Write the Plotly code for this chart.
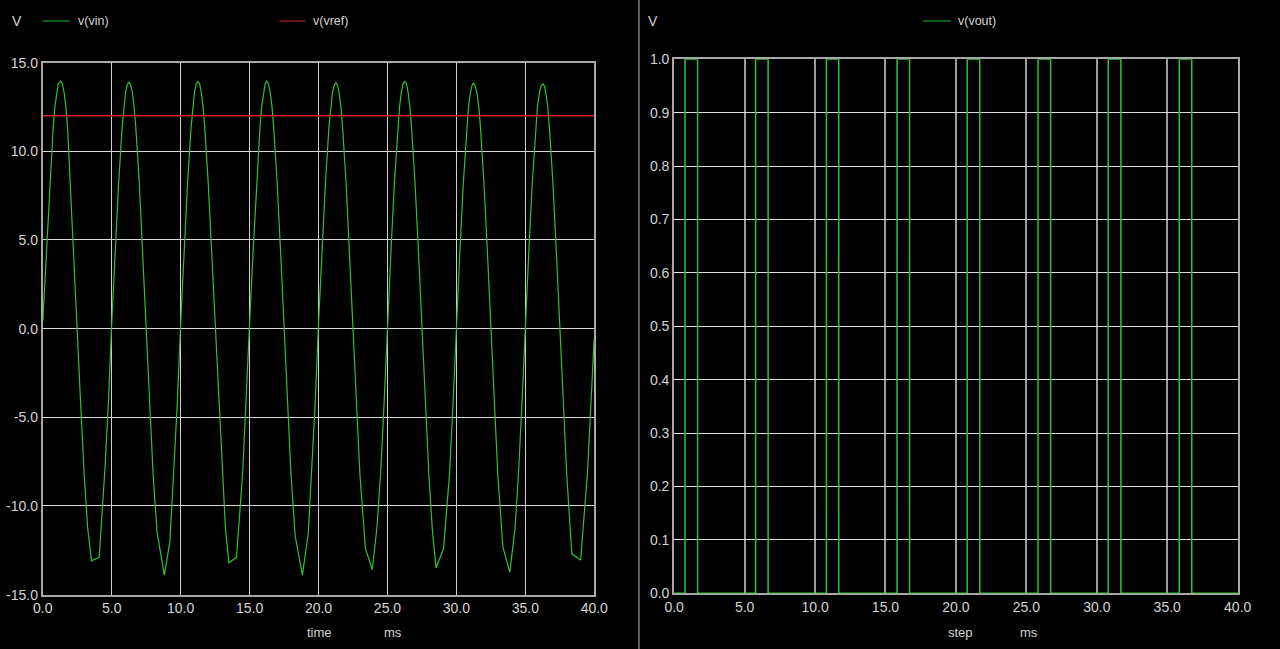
import plotly.graph_objects as go

# ---------------- data ----------------
vin_time = [
    0.0, 0.25, 0.5, 0.75, 0.875, 1.0, 1.125, 1.3, 1.425, 1.55, 1.675, 1.8, 2.0, 2.25, 2.5, 2.75, 3.0, 3.25, 3.53, 4.09, 4.5, 4.75,
    5.0, 5.25, 5.5, 5.75, 5.875, 6.0, 6.125, 6.25, 6.375, 6.5, 6.625, 6.75, 7.0, 7.25, 7.5, 7.75, 8.0, 8.29, 8.82, 9.22, 9.5, 9.75,
    10.0, 10.25, 10.5, 10.75, 10.875, 11.0, 11.125, 11.25, 11.375, 11.5, 11.625, 11.75, 12.0, 12.25, 12.5, 12.75, 13.0, 13.25, 13.5, 14.05, 14.5, 14.75,
    15.0, 15.25, 15.5, 15.75, 15.875, 16.0, 16.125, 16.25, 16.375, 16.5, 16.625, 16.75, 17.0, 17.25, 17.5, 17.75, 18.0, 18.31, 18.83, 19.25, 19.5, 19.75,
    20.0, 20.25, 20.5, 20.75, 20.875, 21.0, 21.125, 21.26, 21.385, 21.5, 21.625, 21.75, 22.0, 22.25, 22.5, 22.75, 23.0, 23.4, 23.9, 24.25, 24.5, 24.75,
    25.0, 25.25, 25.5, 25.75, 25.875, 26.0, 26.125, 26.26, 26.385, 26.5, 26.625, 26.75, 27.0, 27.25, 27.5, 27.75, 28.0, 28.25, 28.52, 29.07, 29.5, 29.75,
    30.0, 30.25, 30.5, 30.75, 30.875, 31.0, 31.125, 31.23, 31.355, 31.5, 31.625, 31.75, 32.0, 32.25, 32.5, 32.75, 33.0, 33.37, 33.87, 34.25, 34.5, 34.75,
    35.0, 35.25, 35.5, 35.75, 35.875, 36.0, 36.125, 36.28, 36.405, 36.5, 36.625, 36.75, 37.0, 37.25, 37.5, 37.75, 38.0, 38.37, 39.01, 39.5, 39.75, 40.0,
]
vin_volts = [
    0.4, 4.3, 8.2, 11.3, 12.5, 13.3, 13.8, 13.95, 13.8, 13.3, 12.5, 11.3, 8.2, 4.3, 0.0, -4.3, -8.2, -11.2, -13.1, -12.9, -8.0, -4.3,
    0.3, 4.3, 8.2, 11.3, 12.5, 13.3, 13.75, 13.9, 13.75, 13.3, 12.5, 11.3, 8.2, 4.3, 0.0, -4.3, -8.2, -11.5, -13.9, -12.0, -8.2, -4.3,
    0.3, 4.3, 8.2, 11.3, 12.5, 13.3, 13.8, 13.93, 13.8, 13.3, 12.5, 11.3, 8.2, 4.3, 0.0, -4.3, -8.2, -11.3, -13.2, -12.9, -8.1, -4.3,
    0.3, 4.3, 8.2, 11.3, 12.5, 13.3, 13.8, 13.95, 13.8, 13.3, 12.5, 11.3, 8.2, 4.3, 0.0, -4.3, -8.2, -11.7, -13.9, -11.6, -8.2, -4.3,
    0.3, 4.3, 8.2, 11.3, 12.5, 13.25, 13.7, 13.87, 13.7, 13.25, 12.5, 11.3, 8.2, 4.3, 0.0, -4.3, -8.2, -12.4, -13.6, -11.1, -8.2, -4.3,
    0.3, 4.3, 8.2, 11.3, 12.5, 13.3, 13.8, 13.93, 13.8, 13.3, 12.5, 11.3, 8.2, 4.3, 0.0, -4.3, -8.2, -11.3, -13.5, -12.4, -8.2, -4.3,
    0.3, 4.3, 8.2, 11.3, 12.5, 13.25, 13.7, 13.85, 13.7, 13.25, 12.5, 11.3, 8.2, 4.3, 0.0, -4.3, -8.2, -12.3, -13.75, -11.3, -8.2, -4.3,
    0.3, 4.3, 8.2, 11.3, 12.5, 13.2, 13.65, 13.8, 13.65, 13.2, 12.5, 11.3, 8.2, 4.3, 0.0, -4.3, -8.2, -12.7, -13.05, -8.2, -4.3, -0.5,
]
vref_time = [0.0, 40.0]
vref_volts = [12.0, 12.0]

vout_time = [0.0, 0.77, 1.66, 5.78, 6.67, 10.81, 11.68, 15.82, 16.71, 20.80, 21.69,
             25.83, 26.72, 30.81, 31.71, 35.85, 36.74, 40.0]
vout_volts = [0, 1, 0, 1, 0, 1, 0, 1, 0, 1, 0, 1, 0, 1, 0, 1, 0, 0]

left_yticks = [-15, -10, -5, 0, 5, 10, 15]
left_yticklabels = ["-15.0", "-10.0", "-5.0", "0.0", "5.0", "10.0", "15.0"]
right_yticks = [0.0, 0.1, 0.2, 0.3, 0.4, 0.5, 0.6, 0.7, 0.8, 0.9, 1.0]
xticks = [0, 5, 10, 15, 20, 25, 30, 35, 40]

# ---------------- style ----------------
W, H = 1280, 649
GREEN = "#2fc42f"
RED = "#d42020"
TXT = "#d4d4d4"
FONT = "Liberation Sans, Arial, sans-serif"

# the page shows the figure inside an 8 px body margin; map screen pixels to paper
OFF = 8
def px(x):
    return (x - OFF) / (W - 2 * OFF)

def py(y):
    return 1 - (y - OFF) / (H - 2 * OFF)

fig = go.Figure()
fig.add_trace(go.Scatter(x=vin_time, y=vin_volts, mode="lines", name="v(vin)",
                         line=dict(color=GREEN, width=1.2), xaxis="x", yaxis="y"))
fig.add_trace(go.Scatter(x=vref_time, y=vref_volts, mode="lines", name="v(vref)",
                         line=dict(color=RED, width=1.5), xaxis="x", yaxis="y"))
fig.add_trace(go.Scatter(x=vout_time, y=vout_volts, mode="lines", name="v(vout)",
                         line=dict(color=GREEN, width=1.5, shape="hv"), xaxis="x2", yaxis="y2"))

common = dict(showline=True, mirror=True, linecolor="#a8a8a8", linewidth=2,
              showgrid=True, zeroline=False, ticks="", layer="below traces",
              tickfont=dict(family=FONT, size=14, color=TXT), fixedrange=True)

fig.update_layout(
    width=W, height=H, margin=dict(l=0, r=0, t=0, b=0),
    paper_bgcolor="black", plot_bgcolor="black", showlegend=False,
    xaxis=dict(domain=[px(41), px(596)], range=[0, 40], tickvals=xticks,
               tickformat=".1f", gridcolor="#cfcfcf", gridwidth=1, anchor="y", **common),
    yaxis=dict(domain=[py(594.6), py(62.6)], range=[-15, 15], tickvals=left_yticks,
               ticktext=left_yticklabels, gridcolor="#d8d8d8", gridwidth=1, anchor="x", **common),
    xaxis2=dict(domain=[px(676.4), px(1243.5)], range=[0, 40], tickvals=xticks,
                tickformat=".1f", gridcolor="#9c9c9c", gridwidth=1.5, anchor="y2", **common),
    yaxis2=dict(domain=[py(593.3), py(59.3)], range=[0, 1], tickvals=right_yticks,
                tickformat=".1f", gridcolor="#dcdcdc", gridwidth=1, anchor="x2", **common),
)

shapes = [
    dict(type="line", xref="paper", yref="paper", x0=px(641), x1=px(641), y0=-0.02, y1=1.02,
         line=dict(color="#7a7a7a", width=1.5)),
    # legend samples
    dict(type="line", xref="paper", yref="paper", x0=px(41), x1=px(68), y0=py(21), y1=py(21),
         line=dict(color="#1e9a1e", width=1.2)),
    dict(type="line", xref="paper", yref="paper", x0=px(279), x1=px(305), y0=py(21), y1=py(21),
         line=dict(color="#b01c1c", width=1.2)),
    dict(type="line", xref="paper", yref="paper", x0=px(927), x1=px(955), y0=py(21), y1=py(21),
         line=dict(color="#1e9a1e", width=1.2)),
]
fig.update_layout(shapes=shapes)

def label(text, x, y, anchor="left", size=13):
    return dict(text=text, xref="paper", yref="paper", x=px(x), y=py(y),
                xanchor=anchor, yanchor="middle", showarrow=False,
                font=dict(family=FONT, size=size, color=TXT))

fig.update_layout(annotations=[
    label("V", 8, 21, size=14), label("v(vin)", 74, 21, size=12.5), label("v(vref)", 311, 21, size=12.5),
    label("V", 648, 21, size=14), label("v(vout)", 960, 21, size=12.5),
    label("time", 319, 632, "center"), label("ms", 393, 632, "center"),
    label("step", 965, 632, "center"), label("ms", 1033, 632, "center"),
])

fig.write_html("out.html")
